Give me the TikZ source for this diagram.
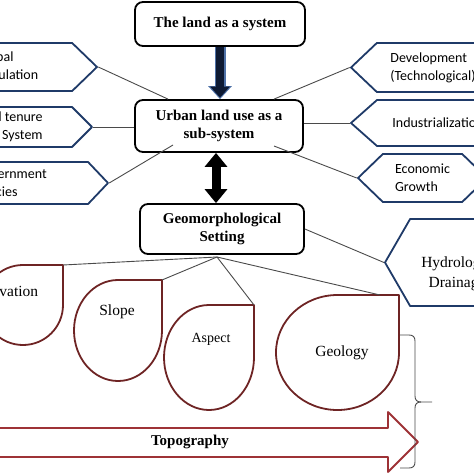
\documentclass[tikz,border=0pt]{standalone}
\usepackage{fontspec}
\setmainfont{Liberation Serif}
\newfontfamily\hexfont{Carlito}
\usetikzlibrary{shapes.symbols,arrows.meta}
\definecolor{hexblue}{HTML}{1F3A68}
\definecolor{dropred}{HTML}{6E2424}
\definecolor{arrowred}{HTML}{9E3236}
\definecolor{linegray}{HTML}{4A4A4A}
\definecolor{navyfill}{HTML}{0E1A33}
\definecolor{navyedge}{HTML}{4F72A8}
\tikzset{
  sysbox/.style={draw, line width=1.8pt, rounded corners=8pt, align=center, inner sep=0pt,
    font=\bfseries\fontsize{15}{18.5}\selectfont},
  hexl/.style={shape=signal, signal to=east and west, draw=hexblue, line width=1.8pt,
    inner sep=0pt, font=\hexfont\fontsize{14}{18}\selectfont},
  hexr/.style={hexl},
  conn/.style={draw=linegray, line width=0.9pt},
  drop/.style={draw=dropred, line width=1.8pt},
  droptext/.style={font=\fontsize{15.5}{20}\selectfont},
  sysarrow/.style={line width=#1, -{Triangle[width=23pt,length=13pt]}},
  dblarrow/.style={line width=9pt, {Triangle[width=22pt,length=14pt]}-{Triangle[width=22pt,length=14pt]}},
  topoarrow/.style={draw=arrowred, line width=1.8pt},
  bracestyle/.style={draw=linegray, line width=0.9pt}
}
% teardrop outline: centre x, centre y, x radius, y radius
\newcommand{\geoDrop}[4]{%
  \draw[drop] (#1+#3,#2-#4) -- (#1+#3,#2)
    arc[start angle=0, end angle=270, x radius=#3, y radius=#4] -- cycle;}
\begin{document}
\begin{tikzpicture}
\def\pxsz{1pt}
\begin{scope}[x=\pxsz, y=-\pxsz, line join=round]
  \useasboundingbox (0,0) rectangle (474,474);
  \clip (0,0) rectangle (474,474);
  % System boxes
  \node[sysbox, minimum width=170pt, minimum height=44pt] (land) at (220,24) {The land as a system};
  \node[sysbox, minimum width=168pt, minimum height=52pt] (urban) at (219,126) {Urban land use as a\\sub-system};
  \node[sysbox, minimum width=164pt, minimum height=50pt] (geo) at (222,229) {Geomorphological\\Setting};
  % Factors on the left
  \node[hexl, minimum width=179pt, minimum height=48pt, signal pointer angle=88, align=left] (pop) at (7.5,67) {Global\\Population};
  \node[hexl, minimum width=167pt, minimum height=40pt, signal pointer angle=90, align=right] (tenure) at (8.5,127) {Land tenure\\System};
  \node[hexl, minimum width=194pt, minimum height=42pt, signal pointer angle=93, align=left] (gov) at (11,183) {Government\\Policies};
  % Factors on the right
  \node[hexr, minimum width=164pt, minimum height=49pt, signal pointer angle=87, align=left] (dev) at (433,67.5) {Development\\(Technological)};
  \node[hexr, minimum width=174pt, minimum height=46pt, signal pointer angle=83] (ind) at (438,123) {Industrialization};
  \node[hexr, minimum width=129pt, minimum height=48pt, signal pointer angle=88, align=left] (eco) at (422.5,178) {Economic\\Growth};
  \node[hexr, minimum width=144pt, minimum height=87pt, signal pointer angle=120] (hydro) at (457,262.5) {};
  \node[droptext, align=center] (hydrotxt) at (457,274) {Hydrology/\\Drainage};
  % Arrows between the system boxes
  \draw[sysarrow=11pt, navyedge] (land.south) -- (land.south |- urban.north);
  \draw[line width=8pt, navyfill, -{Triangle[width=19pt,length=11pt]}, shorten >=1.5pt] (land.south) -- (land.south |- urban.north);
  \draw[dblarrow] ([xshift=-3pt]urban.south) -- ([xshift=-3pt]urban.south |- geo.north);
  % Connectors to the sub-system
  \draw[conn] (pop.east) -- ([xshift=-51pt]urban.north);
  \draw[conn] (tenure.east) -- (tenure.east -| urban.west);
  \draw[conn] (gov.east) -- ([xshift=-46pt,yshift=-19pt]urban.center);
  \draw[conn] (dev.west) -- ([xshift=55pt]urban.north);
  \draw[conn] (ind.west) -- (ind.west -| urban.east);
  \draw[conn] (eco.west) -- ([xshift=55pt,yshift=-20pt]urban.center);
  \draw[conn] (geo.east) -- (hydro.west);
  % Landform elements
  \geoDrop{23}{305}{40}{40}
  \geoDrop{118}{330.5}{44}{50.5}
  \geoDrop{209}{357.5}{45}{52.5}
  \geoDrop{337.5}{352.5}{61.5}{57.5}
  \node[droptext] (elev) at (8.5,291) {Elevation};
  \node[droptext] (slope) at (117,312) {Slope};
  \node[droptext, font=\fontsize{14}{17}\selectfont] (aspect) at (211,339) {Aspect};
  \node[droptext] (geol) at (342,353) {Geology};
  \coordinate (fork) at (217,257);
  \coordinate (elevc) at (63,265);
  \coordinate (slopec) at (162,280);
  \coordinate (aspectc) at (254,305);
  \coordinate (geolc) at (380,295);
  \draw[conn] (fork) -- (elevc);
  \draw[conn] (fork) -- (slopec);
  \draw[conn] (fork) -- (aspectc);
  \draw[conn] (fork) -- (geolc);
  % Topography arrow and brace
  \draw[topoarrow] (-10,428) -- (388,428) -- (388,412) -- (418,442) -- (388,472) -- (388,457) -- (-10,457) -- cycle;
  \node[font=\bfseries\fontsize{15}{17}\selectfont] (topo) at (190,442) {Topography};
  \draw[bracestyle] (400,335) -- (409,335) .. controls (413,335) and (415,337) .. (415,341) -- (415,396)
    .. controls (415,400) and (417,402) .. (421,402) -- (432,402);
  \draw[bracestyle] (421,402) .. controls (417,402) and (415,404) .. (415,408) -- (415,462)
    .. controls (415,466) and (413,468) .. (409,468) -- (400,468);
\end{scope}
\end{tikzpicture}
\end{document}
